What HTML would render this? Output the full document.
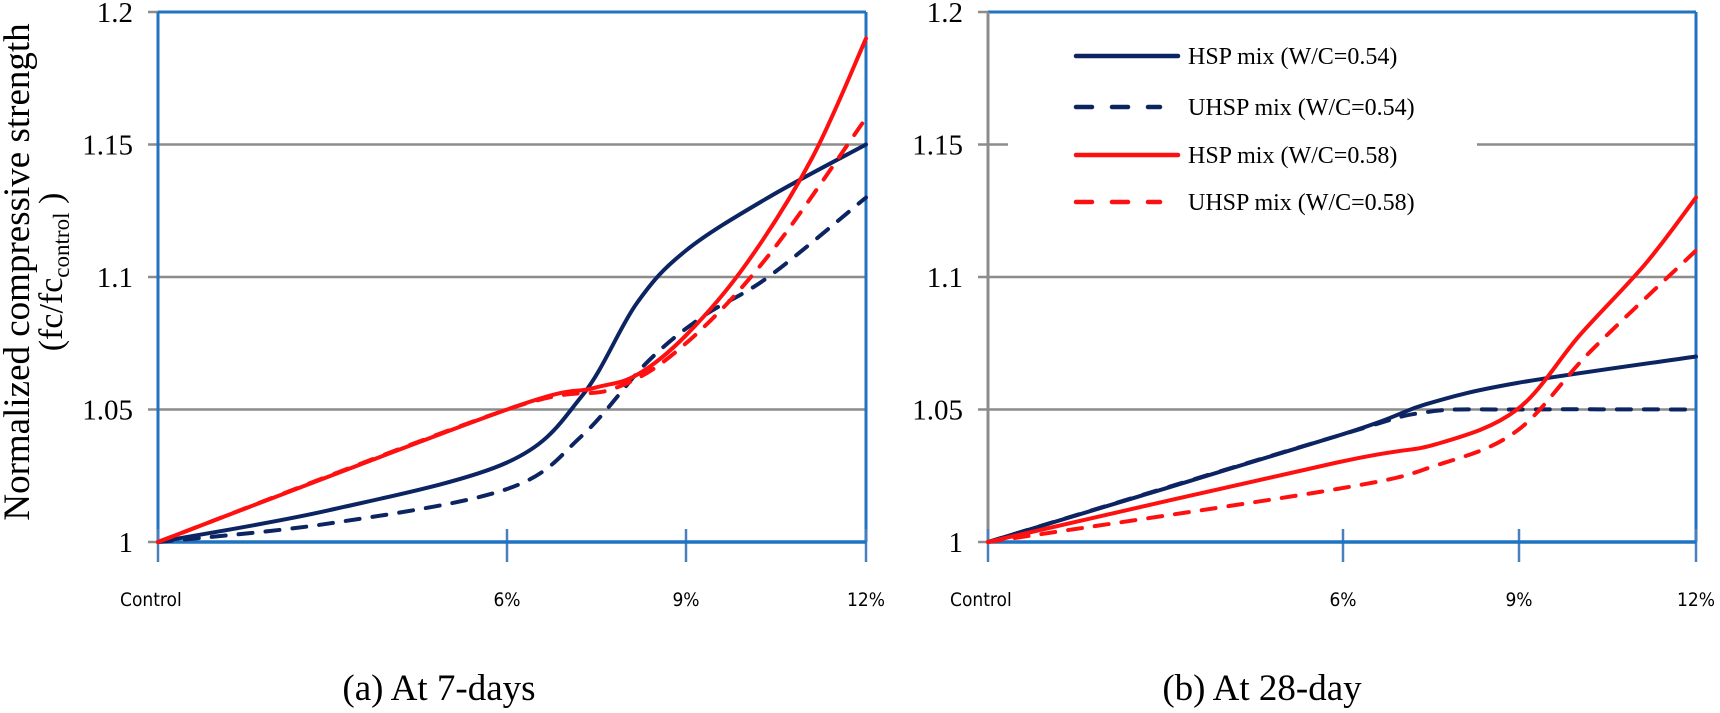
<!DOCTYPE html>
<html><head><meta charset="utf-8"><style>
html,body{margin:0;padding:0;background:#fff}
svg{display:block}
text{font-family:"Liberation Serif",serif}
.tk{font-family:"DejaVu Sans Condensed","Liberation Sans Narrow","Liberation Sans",sans-serif;font-size:19px}
</style></head><body>
<svg id="s" width="1720" height="713" xmlns="http://www.w3.org/2000/svg">
<g id="g"></g>
</svg>
<script>
const NS="http://www.w3.org/2000/svg";
const g=document.getElementById('g');
function el(t,a,txt){const e=document.createElementNS(NS,t);for(const k in a)e.setAttribute(k,a[k]);if(txt!==undefined)e.textContent=txt;g.appendChild(e);return e;}
const Y=v=>12+(1.2-v)/0.05*132.5;
function cat(pts){let d=`M${pts[0][0]},${pts[0][1]}`;for(let i=0;i<pts.length-1;i++){const p0=pts[i-1]||pts[i],p1=pts[i],p2=pts[i+1],p3=pts[i+2]||p2;const c1=[p1[0]+(p2[0]-p0[0])/6,p1[1]+(p2[1]-p0[1])/6],c2=[p2[0]-(p3[0]-p1[0])/6,p2[1]-(p3[1]-p1[1])/6];d+=` C${c1[0]},${c1[1]} ${c2[0]},${c2[1]} ${p2[0]},${p2[1]}`;}return d;}
function panel(x0,xs,leftGray,series,legend){
  const x1=xs[3];
  const grid=[1.2,1.15,1.1,1.05,1.0];
  grid.forEach(v=>{
    const y=Y(v);
    if(legend&&v===1.15){el('line',{x1:x0-10,y1:y,x2:x0+20,y2:y,stroke:'#8c8c8c','stroke-width':2.5});el('line',{x1:1477,y1:y,x2:x1,y2:y,stroke:'#8c8c8c','stroke-width':2.5});}
    else el('line',{x1:x0-10,y1:y,x2:x1,y2:y,stroke:'#8c8c8c','stroke-width':2.5});
    el('text',{x:x0-25,y:y+10,'text-anchor':'end','font-size':29},v===1?'1':v===1.2?'1.2':v===1.1?'1.1':String(v));
  });
  el('line',{x1:x0,y1:Y(1.2),x2:x1,y2:Y(1.2),stroke:'#1f73c0','stroke-width':3});
  el('line',{x1:x1,y1:Y(1.2),x2:x1,y2:Y(1),stroke:'#1f73c0','stroke-width':3});
  el('line',{x1:x0,y1:Y(1.2),x2:x0,y2:Y(1),stroke:leftGray?'#8c8c8c':'#1f73c0','stroke-width':3});
  xs.forEach(x=>el('line',{x1:x,y1:529,x2:x,y2:562,stroke:'#4a7fbf','stroke-width':2.5}));
  el('line',{x1:x0,y1:Y(1),x2:x1,y2:Y(1),stroke:'#1f73c0','stroke-width':3.5});
  const labs=['Control','6%','9%','12%'];
  labs.forEach((l,i)=>el('text',{x:i==0?x0-38:xs[i],y:606,'text-anchor':i==0?'start':'middle',class:'tk'},l));
  const mx=xd=>x0+(xd-(leftGray?901:144))*1.0977;
  series.forEach(s=>{
    const pts=s.p.map(q=>[mx(q[0]),Y(q[1])]);
    const a={d:cat(pts),fill:'none',stroke:s.c,'stroke-width':4,'stroke-linecap':'round'};
    if(s.d)a['stroke-dasharray']='14 13';
    el('path',a);
  });
}
const N='#0c2461',R='#ff1010';
panel(158,[158,507,686,866],false,[
 {c:N,p:[[144,1],[300,1.012],[462,1.03],[530,1.055],[580,1.09],[625,1.11],[700,1.13],[789,1.15]]},
 {c:N,d:1,p:[[144,1],[300,1.007],[462,1.02],[530,1.04],[590,1.068],[640,1.085],[700,1.1],[789,1.13]]},
 {c:R,p:[[144,1],[462,1.05],[540,1.058],[580,1.063],[625,1.078],[680,1.105],[740,1.145],[789,1.19]]},
 {c:R,d:1,p:[[144,1],[462,1.05],[560,1.058],[625,1.075],[700,1.108],[789,1.16]]}
],false);
panel(988,[988,1343,1519,1696],true,[
 {c:N,p:[[901,1],[1219,1.04],[1300,1.052],[1383,1.06],[1546,1.07]]},
 {c:N,d:1,p:[[901,1],[1219,1.04],[1300,1.049],[1383,1.05],[1546,1.05]]},
 {c:R,p:[[901,1],[1219,1.03],[1310,1.037],[1383,1.05],[1440,1.078],[1500,1.105],[1546,1.13]]},
 {c:R,d:1,p:[[901,1],[1219,1.02],[1310,1.029],[1383,1.042],[1450,1.072],[1546,1.11]]}
],true);
// legend
[[N,0,'HSP mix (W/C=0.54)',56],[N,1,'UHSP mix (W/C=0.54)',107],[R,0,'HSP mix (W/C=0.58)',155],[R,1,'UHSP mix (W/C=0.58)',202]].forEach(r=>{
  const a={x1:1076,y1:r[3],x2:1178,y2:r[3],stroke:r[0],'stroke-width':4.5,'stroke-linecap':'round'};
  if(r[1]){a['stroke-dasharray']='16 20';a.x2=1160;}
  el('line',a);
  el('text',{x:1188,y:r[3]+8,'font-size':24},r[2]);
});
// y title
el('text',{x:0,y:0,'font-size':37,'text-anchor':'middle',transform:'translate(29,272) rotate(-90)'},'Normalized compressive strength');
const t2=el('text',{x:0,y:0,'font-size':34,'text-anchor':'middle',transform:'translate(62,272) rotate(-90)'});
t2.innerHTML='(fc/fc<tspan font-size="23" dy="7">control</tspan><tspan dy="-7"> )</tspan>';
el('text',{x:439,y:700,'font-size':37,'text-anchor':'middle'},'(a) At 7-days');
el('text',{x:1262,y:700,'font-size':37,'text-anchor':'middle'},'(b) At 28-day');
</script>
</body></html>
